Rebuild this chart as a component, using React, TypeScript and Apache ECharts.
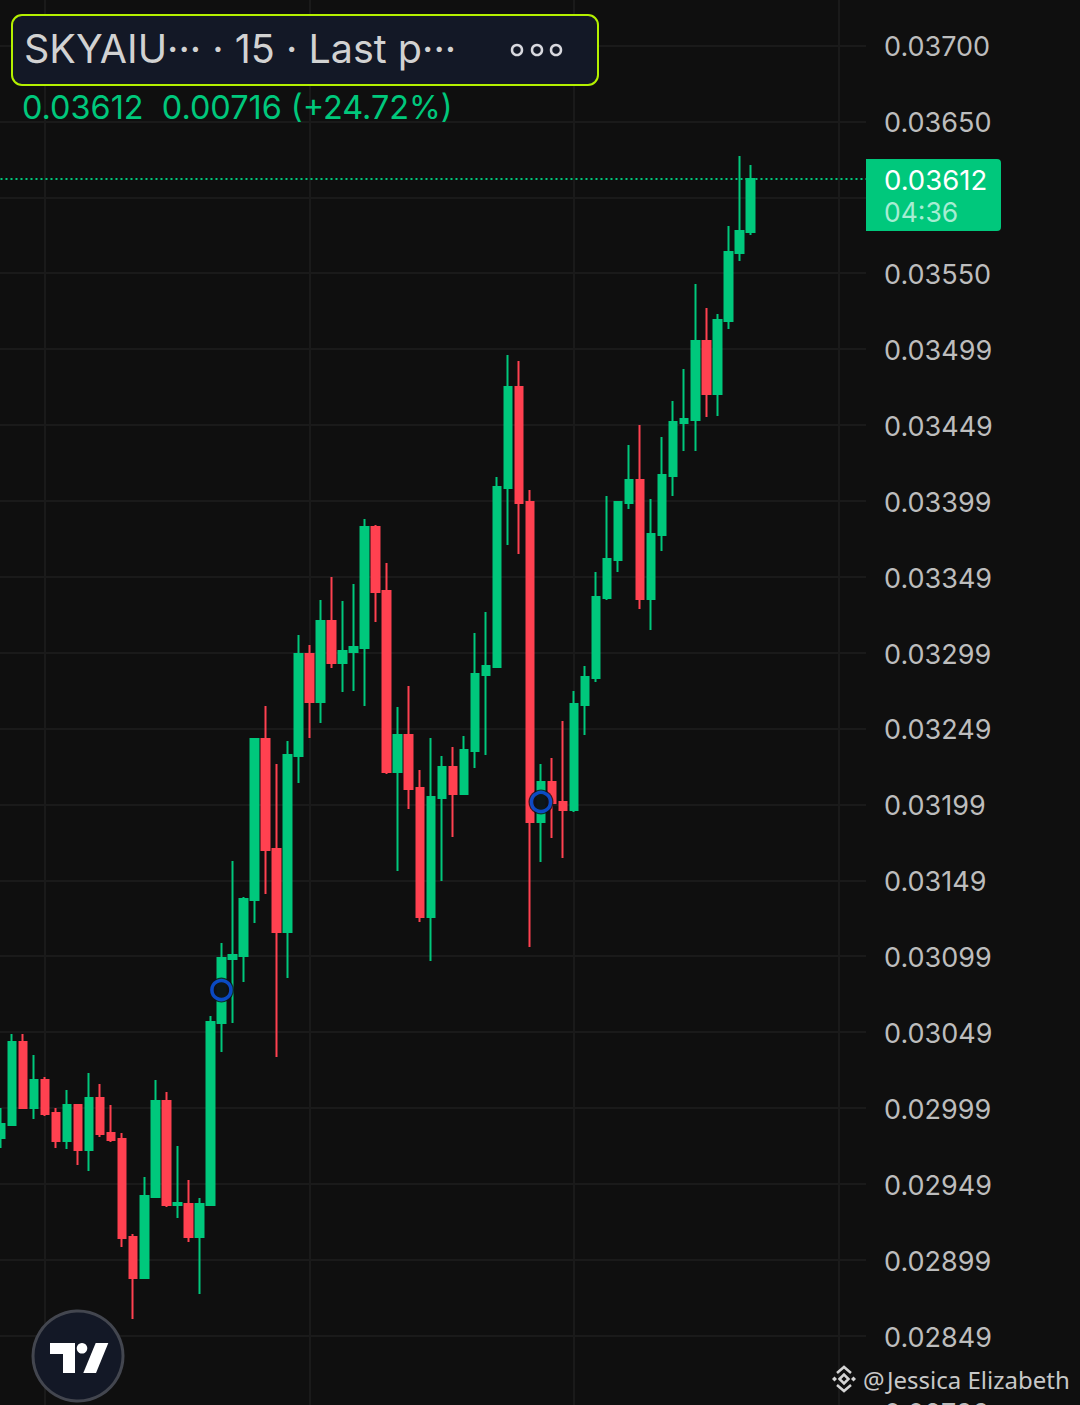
import React, { useEffect, useRef } from "react";
import * as echarts from "echarts";

const UP = "#00C87C";
const DOWN = "#FF4150";
const BG = "#0F0F0F";
const GRID = "#1A1A1A";

const opens = [0.029802,0.029888,0.030435,0.030000,0.030184,0.029967,0.029782,0.030020,0.029723,0.030066,0.029835,0.029796,0.029150,0.028880,0.029413,0.030046,0.029361,0.029367,0.029150,0.029361,0.030560,0.030981,0.031001,0.031370,0.032431,0.031706,0.031159,0.032319,0.032991,0.032675,0.033208,0.032932,0.033004,0.033031,0.033828,0.033406,0.032214,0.032457,0.032108,0.031258,0.032042,0.032246,0.032069,0.032352,0.032853,0.032905,0.034085,0.034750,0.033992,0.031884,0.032148,0.032016,0.031963,0.032655,0.032833,0.033360,0.033610,0.033986,0.034137,0.033353,0.033775,0.034164,0.034513,0.034533,0.035053,0.034704,0.035185,0.035633,0.035771];
const closes = [0.029894,0.030435,0.030000,0.030184,0.029960,0.029782,0.030020,0.029723,0.030066,0.029828,0.029789,0.029143,0.028880,0.029420,0.030046,0.029361,0.029374,0.029150,0.029367,0.030566,0.030988,0.031008,0.031377,0.032431,0.031700,0.031159,0.032326,0.032991,0.032675,0.033208,0.032932,0.033011,0.033037,0.033828,0.033399,0.032214,0.032457,0.032102,0.031258,0.032049,0.032246,0.032069,0.032358,0.032859,0.032912,0.034091,0.034750,0.033986,0.031884,0.032148,0.032009,0.031963,0.032662,0.032839,0.033367,0.033617,0.033992,0.034137,0.033353,0.033782,0.034170,0.034520,0.034539,0.035053,0.034704,0.035192,0.035640,0.035778,0.036120];
const lows = [0.029736,0.029888,0.030000,0.029927,0.029947,0.029736,0.029730,0.029624,0.029585,0.029809,0.029776,0.029084,0.028610,0.028880,0.029413,0.029348,0.029275,0.029117,0.028774,0.029354,0.030369,0.030560,0.030830,0.031219,0.031410,0.030336,0.030856,0.032141,0.032438,0.032536,0.032899,0.032741,0.032747,0.032648,0.033202,0.032200,0.031561,0.031970,0.031225,0.030968,0.031495,0.031785,0.032069,0.032240,0.032326,0.032905,0.033709,0.033650,0.031061,0.031621,0.031779,0.031647,0.031950,0.032457,0.032806,0.033347,0.033531,0.033946,0.033287,0.033149,0.033670,0.034032,0.034328,0.034328,0.034552,0.034559,0.035132,0.035580,0.035752];
const highs = [0.030000,0.030487,0.030487,0.030349,0.030204,0.030000,0.030118,0.030020,0.030230,0.030158,0.030020,0.029835,0.029170,0.029545,0.030184,0.030105,0.029749,0.029525,0.029407,0.030606,0.031087,0.031627,0.031390,0.032438,0.032648,0.032266,0.032418,0.033116,0.033050,0.033347,0.033498,0.033340,0.033452,0.033880,0.033841,0.033591,0.032642,0.032780,0.032227,0.032438,0.032319,0.032378,0.032451,0.033129,0.033268,0.034157,0.034961,0.034921,0.034071,0.032266,0.032306,0.032550,0.032747,0.032912,0.033531,0.034032,0.033992,0.034368,0.034500,0.034012,0.034421,0.034658,0.034869,0.035429,0.035271,0.035231,0.035811,0.036272,0.036213];

const tickLabels = ["0.03700","0.03650","","0.03550","0.03499","0.03449","0.03399","0.03349","0.03299","0.03249","0.03199","0.03149","0.03099","0.03049","0.02999","0.02949","0.02899","0.02849","0.02799"];
const gridCandles = [4, 28, 52, 76];
const slotCount = 79;
const lastPrice = 0.03612;
const markerSlots = [20, 49];
const markerPrices = [0.030777, 0.032016];

const FONT = "Inter";

export default function App() {
  const ref = useRef<HTMLDivElement>(null);
  useEffect(() => {
    document.body.style.margin = "0";
    document.body.style.background = BG;
    const chart = echarts.init(ref.current!, null, { renderer: "svg" });
    const categories = Array.from({ length: slotCount }, (_, i) => String(i));
    const candles = opens.map((o, i) => [o, closes[i], lows[i], highs[i]]);
    const markers = markerSlots.map((s, i) => [String(s), markerPrices[i]]);
    const bsc = "#D4D4D4";
    chart.setOption({
      animation: false,
      backgroundColor: BG,
      grid: { left: -4.51, width: 870.58, top: -30.4, height: 1441.9, containLabel: false, outerBoundsMode: "none" },
      xAxis: [
        {
          type: "category",
          data: categories,
          axisLine: { show: false },
          axisTick: { show: false },
          axisLabel: { show: false },
          splitLine: {
            show: true,
            alignWithLabel: true,
            interval: (index: number) => gridCandles.includes(index),
            lineStyle: { color: GRID, width: 2 },
          },
        },
        { type: "value", min: 0, max: 1, show: false, splitLine: { show: false } },
      ],
      yAxis: {
        type: "value",
        position: "right",
        min: 0.028,
        max: 0.0375,
        interval: 0.0005,
        axisLine: { show: false },
        axisTick: { show: false },
        splitLine: { show: true, lineStyle: { color: GRID, width: 2 } },
        axisLabel: {
          margin: 18,
          align: "left",
          formatter: (v: number) => {
            const label = tickLabels[Math.round((0.037 - v) / 0.0005)];
            return label ? `{a|${label}}` : "";
          },
          rich: { a: { fontFamily: FONT, fontSize: 27, color: "#BDBDBD", padding: [3, 0, 0, 0] } },
        },
      },
      series: [
        {
          type: "line",
          xAxisIndex: 1,
          data: [[0, lastPrice], [1, lastPrice]],
          symbol: "none",
          silent: true,
          z: 2,
          lineStyle: { color: UP, type: [2, 3], width: 2 },
        },
        {
          type: "candlestick",
          data: candles,
          barWidth: 8,
          z: 3,
          itemStyle: { color: UP, color0: DOWN, borderColor: UP, borderColor0: DOWN, borderWidth: 2 },
        },
        {
          type: "scatter",
          data: markers,
          symbol: "circle",
          symbolSize: 25,
          z: 4,
          silent: true,
          itemStyle: { color: BG },
        },
        {
          type: "scatter",
          data: markers,
          symbol: "circle",
          symbolSize: 19,
          z: 5,
          silent: true,
          itemStyle: { color: "#0E1016", borderColor: "#0A57EE", borderWidth: 3.5 },
        },
      ],
      graphic: [
        { type: "rect", z: 20, shape: { x: 12, y: 15, width: 586, height: 70, r: 10 }, style: { fill: "#131826", stroke: "#B4F000", lineWidth: 2 } },
        { type: "text", z: 21, x: 24, y: 49, style: { text: "SKYAIU··· · 15 · Last p···", fill: "#D2D2D2", fontFamily: FONT, fontSize: 39.5, verticalAlign: "middle" } },
        { type: "circle", z: 21, shape: { cx: 517, cy: 50, r: 5 }, style: { fill: "none", stroke: "#D8D8DE", lineWidth: 2.5 } },
        { type: "circle", z: 21, shape: { cx: 537, cy: 50, r: 5 }, style: { fill: "none", stroke: "#D8D8DE", lineWidth: 2.5 } },
        { type: "circle", z: 21, shape: { cx: 556, cy: 50, r: 5 }, style: { fill: "none", stroke: "#D8D8DE", lineWidth: 2.5 } },
        { type: "text", z: 21, x: 22, y: 107, style: { text: "0.03612  0.00716 (+24.72%)", fill: UP, fontFamily: FONT, fontSize: 32.4, verticalAlign: "middle" } },

        { type: "rect", z: 20, shape: { x: 866, y: 159, width: 135, height: 72, r: [0, 4, 4, 0] }, style: { fill: UP } },
        { type: "text", z: 21, x: 884, y: 180, style: { text: "0.03612", fill: "#FFFFFF", fontFamily: FONT, fontSize: 27.5, verticalAlign: "middle" } },
        { type: "text", z: 21, x: 884, y: 212, style: { text: "04:36", fill: "#A6EDD3", fontFamily: FONT, fontSize: 26.5, verticalAlign: "middle" } },

        { type: "circle", z: 20, shape: { cx: 78, cy: 1356, r: 45 }, style: { fill: "#131826", stroke: "#43464F", lineWidth: 3 } },
        { type: "polygon", z: 21, shape: { points: [[50, 1343], [75, 1343], [75, 1373], [63, 1373], [63, 1354], [50, 1354]] }, style: { fill: "#FFFFFF" } },
        { type: "circle", z: 21, shape: { cx: 82, cy: 1348.3, r: 5.3 }, style: { fill: "#FFFFFF" } },
        { type: "polygon", z: 21, shape: { points: [[95.7, 1343], [108.3, 1343], [96, 1373], [83.3, 1373]] }, style: { fill: "#FFFFFF" } },

        { type: "polyline", z: 21, shape: { points: [[837, 1373], [844, 1367], [851, 1373]] }, style: { fill: "none", stroke: bsc, lineWidth: 2.5 } },
        { type: "polyline", z: 21, shape: { points: [[837, 1385], [844, 1391], [851, 1385]] }, style: { fill: "none", stroke: bsc, lineWidth: 2.5 } },
        { type: "polygon", z: 21, shape: { points: [[832, 1379], [834.5, 1376.5], [837, 1379], [834.5, 1381.5]] }, style: { fill: bsc } },
        { type: "polygon", z: 21, shape: { points: [[851, 1379], [853.5, 1376.5], [856, 1379], [853.5, 1381.5]] }, style: { fill: bsc } },
        { type: "polygon", z: 21, shape: { points: [[839.5, 1379], [844, 1374.5], [848.5, 1379], [844, 1383.5]] }, style: { fill: "none", stroke: bsc, lineWidth: 2.5 } },
        { type: "text", z: 21, x: 863, y: 1379, style: { text: "@", fill: "#C8C8C8", fontFamily: "Noto Sans", fontSize: 24, verticalAlign: "middle" } },
        { type: "text", z: 21, x: 887, y: 1379, style: { text: "Jessica Elizabeth", fill: "#C8C8C8", fontFamily: "Noto Sans", fontSize: 24, verticalAlign: "middle" } },
      ],
    });
    return () => chart.dispose();
  }, []);
  return <div ref={ref} style={{ width: 1080, height: 1405 }} />;
}
